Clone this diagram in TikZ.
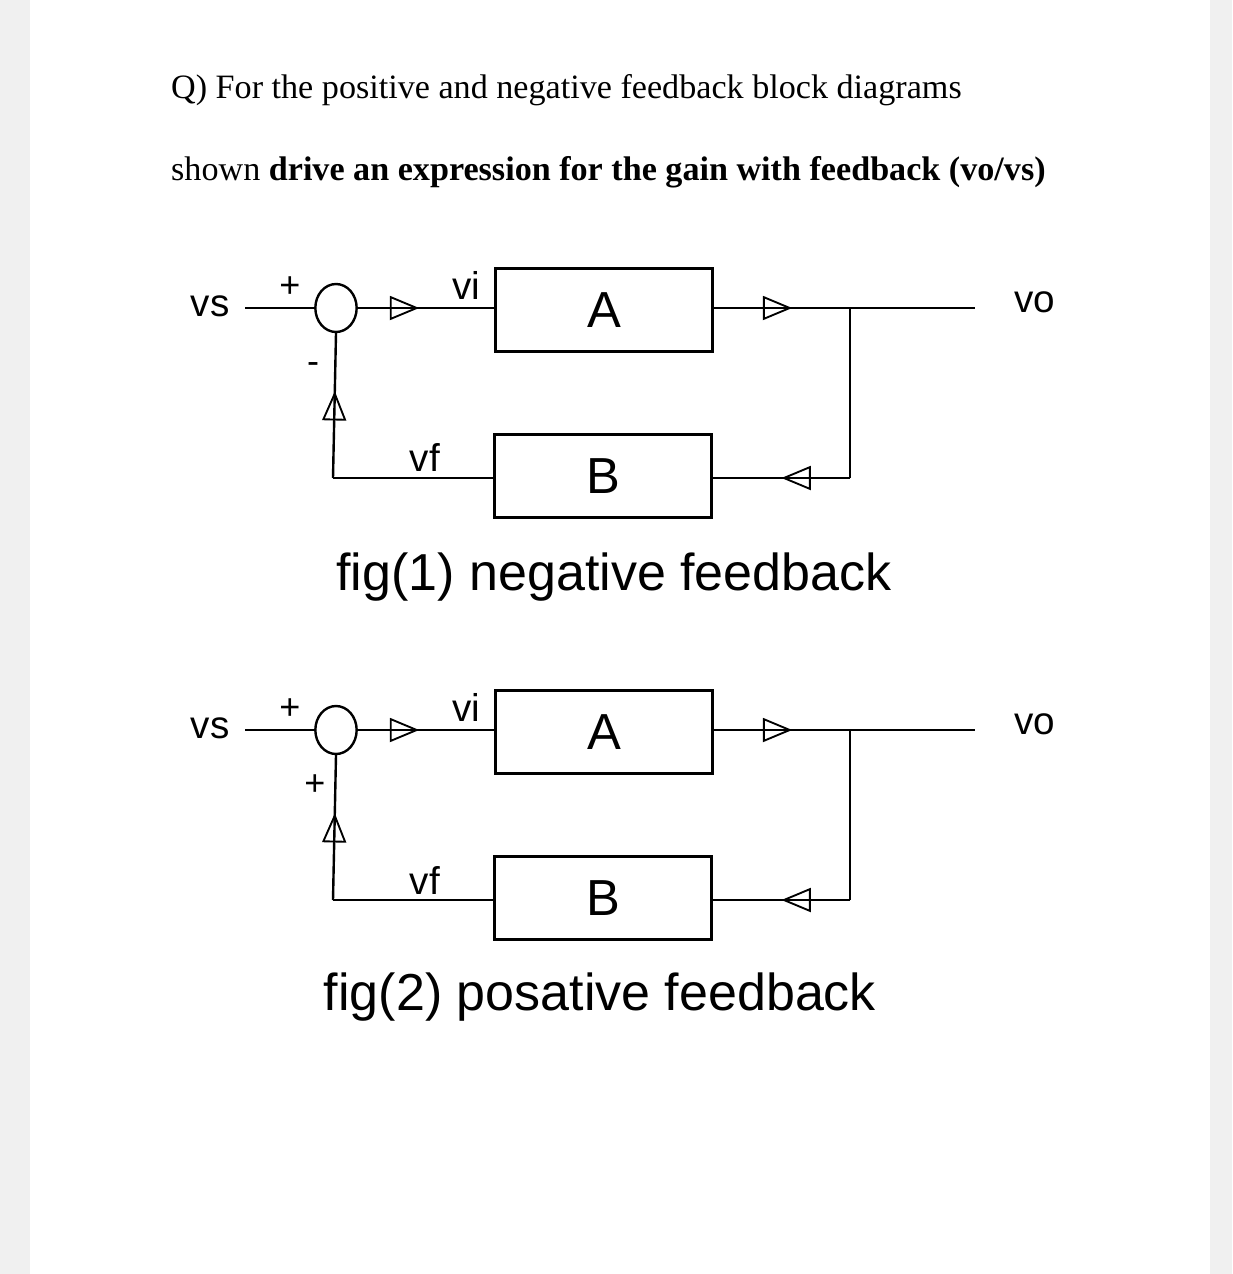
\documentclass[tikz,border=0pt]{standalone}
\usepackage{fontspec}
\setmainfont{Liberation Serif}
\setsansfont{Liberation Sans}
\usetikzlibrary{arrows.meta,decorations.markings,shapes.geometric}
\begin{document}
\begin{tikzpicture}[x=0.75pt,y=-0.75pt,line width=1.8pt,
  marr/.style={postaction={decorate},decoration={markings,mark=at position #1 with {\arrow[line width=1.4pt]{Triangle[open,length=22pt,width=18pt]}}}},
  blk/.style={draw,minimum width=163pt,minimum height=62pt,inner sep=0pt,font=\sffamily\fontsize{38}{38}\selectfont},
  lbl/.style={font=\sffamily\fontsize{29}{29}\selectfont,inner sep=0pt},
  sgn/.style={font=\sffamily\fontsize{27}{27}\selectfont,inner sep=0pt},
  figcap/.style={font=\sffamily\fontsize{39}{39}\selectfont,inner sep=0pt}]
\useasboundingbox (0,0) rectangle (1232,1274);
\fill[gray!12] (0,0) rectangle (1232,1274);
\fill[white] (30,0) rectangle (1210,1274);
\node[anchor=west,font=\fontsize{25.6}{25.6}\selectfont,inner sep=0pt] (t1) at (170,90) {Q) For the positive and negative feedback block diagrams};
\node[anchor=west,font=\fontsize{25.6}{25.6}\selectfont,inner sep=0pt] (t2) at (170,172) {shown \textbf{drive an expression for the gain with feedback (vo/vs)}};
\foreach \dy in {0,422}{
\begin{scope}[yshift=-\dy*0.75pt]
\node[lbl] (vs) at (210,306) {vs};
\coordinate (vsr) at (245,308);
\node[draw,ellipse,minimum width=31pt,minimum height=36pt,inner sep=0pt] (s) at (336,308) {};
\node[blk] (A) at (604,310) {A};
\node[blk] (B) at (603,476) {B};
\coordinate (o) at (975,308);
\coordinate (j) at (850,308);
\coordinate (jb) at (850,478);
\coordinate (c) at (333,478);
\node[lbl] (vo) at (1035,302) {vo};
\node[lbl] (vi) at (466,285) {vi};
\node[lbl] (vf) at (425,458) {vf};
\node[sgn] (p) at (290,287) {+};
\draw (vsr) -- (s.west);
\draw[marr=0.45] (s.east) -- (A.west |- s.east);
\draw[marr=0.3] (A.east |- j) -- (o);
\draw (j) -- (jb);
\draw[marr=0.5] (jb) -- (B.east |- jb);
\draw (B.west |- c) -- (c);
\draw[marr=0.6] (c) -- (s.south);
\end{scope}
}
\node[sgn] (m1) at (313,368) {-};
\node[sgn] (m2) at (315,785) {+};
\node[figcap] (c1) at (614,577) {fig(1) negative feedback};
\node[figcap] (c2) at (600,997) {fig(2) posative feedback};
\end{tikzpicture}
\end{document}
